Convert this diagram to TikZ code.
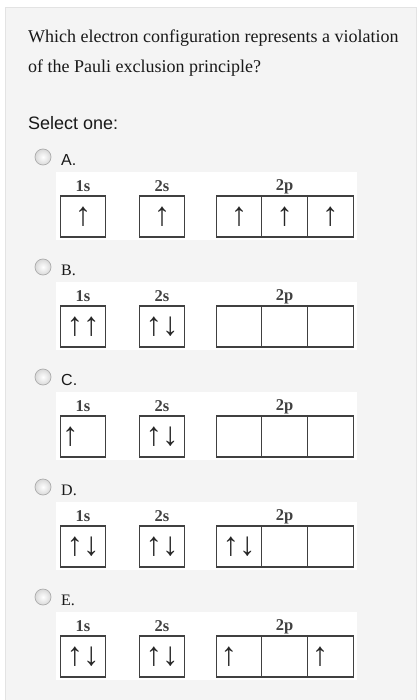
\documentclass[tikz,border=0pt]{standalone}
\usepackage{fontspec}
\setmainfont{Liberation Serif}
\setsansfont{Liberation Sans}
\usepackage{tikz}
\usetikzlibrary{positioning}

% one answer: radio button, letter, orbital diagram
% #1 letter, #2 y of radio, #3 letter font, #4 1s, #5 2s, #6-#8 2p
\newcommand{\choicerow}[8]{%
  \node[radio] (radio#1) at (43,#2) {};
  \node[letter] (let#1) at (61,#2+8.5) {#3#1.};
  \node[diagbg] (bg#1) at (206.5,#2+49) {};
  % labels
  \node[orblabel] (lbls#1) at (83,#2+29.5) {1s};
  \node[orblabel] (lbtwos#1) at (162,#2+29.5) {2s};
  \node[orblabel] (lbtwop#1) at (284.5,#2+29.5) {2p};
  % boxes
  \node[orbbox] (s1#1) at (83,#2+59.5) {#4};
  \node[orbbox] (s2#1) at (162,#2+59.5) {#5};
  \node[orbbox] (pa#1) at (239,#2+59.5) {#6};
  \node[orbbox, right=0pt of pa#1] (pb#1) {#7};
  \node[orbbox, right=0pt of pb#1] (pc#1) {#8};
}

\begin{document}
\begin{tikzpicture}[x=1pt,y=-1pt,
  card/.style={draw=gray!22, fill=gray!9, line width=0.8pt},
  radio/.style={circle, draw=gray!65, inner color=white, outer color=gray!30,
    minimum size=16pt, inner sep=0pt, line width=0.7pt},
  letter/.style={anchor=base west, inner sep=0pt, text=black!90,
    font=\fontsize{16}{19}\selectfont},
  diagbg/.style={fill=white, minimum width=301pt, minimum height=68pt, inner sep=0pt},
  orblabel/.style={font=\bfseries\fontsize{16.5}{18}\selectfont, text=black!75},
  orbbox/.style={draw=black!75, line width=1.1pt, minimum width=45.7pt,
    minimum height=41pt, inner sep=0pt, outer sep=0pt, text=black!85,
    font=\fontsize{33}{33}\selectfont},
]
\useasboundingbox (0,0) rectangle (417,700);
% card
\draw[card] (5,7) rectangle (416,704);

% question
\node[anchor=base west, align=left, inner sep=0pt, text=black!90,
  font=\fontsize{18}{30}\selectfont] (question) at (28,73)
  {Which electron configuration represents a violation\\of the Pauli exclusion principle?};
\node[anchor=base west, inner sep=0pt, text=black!90,
  font=\sffamily\fontsize{18}{22}\selectfont] (select) at (28,130) {Select one:};

% answers
\choicerow{A}{157}{\sffamily}{↑}{↑}{↑}{↑}{↑}
\choicerow{B}{267}{\rmfamily}{↑↑}{↑↓}{}{}{}
\choicerow{C}{377}{\sffamily}{\makebox[42pt][l]{↑}}{↑↓}{}{}{}
\choicerow{D}{487}{\rmfamily}{↑↓}{↑↓}{↑↓}{}{}
\choicerow{E}{597}{\rmfamily}{↑↓}{↑↓}{\makebox[37pt][l]{↑}}{}{\makebox[37pt][l]{↑}}
\end{tikzpicture}
\end{document}
